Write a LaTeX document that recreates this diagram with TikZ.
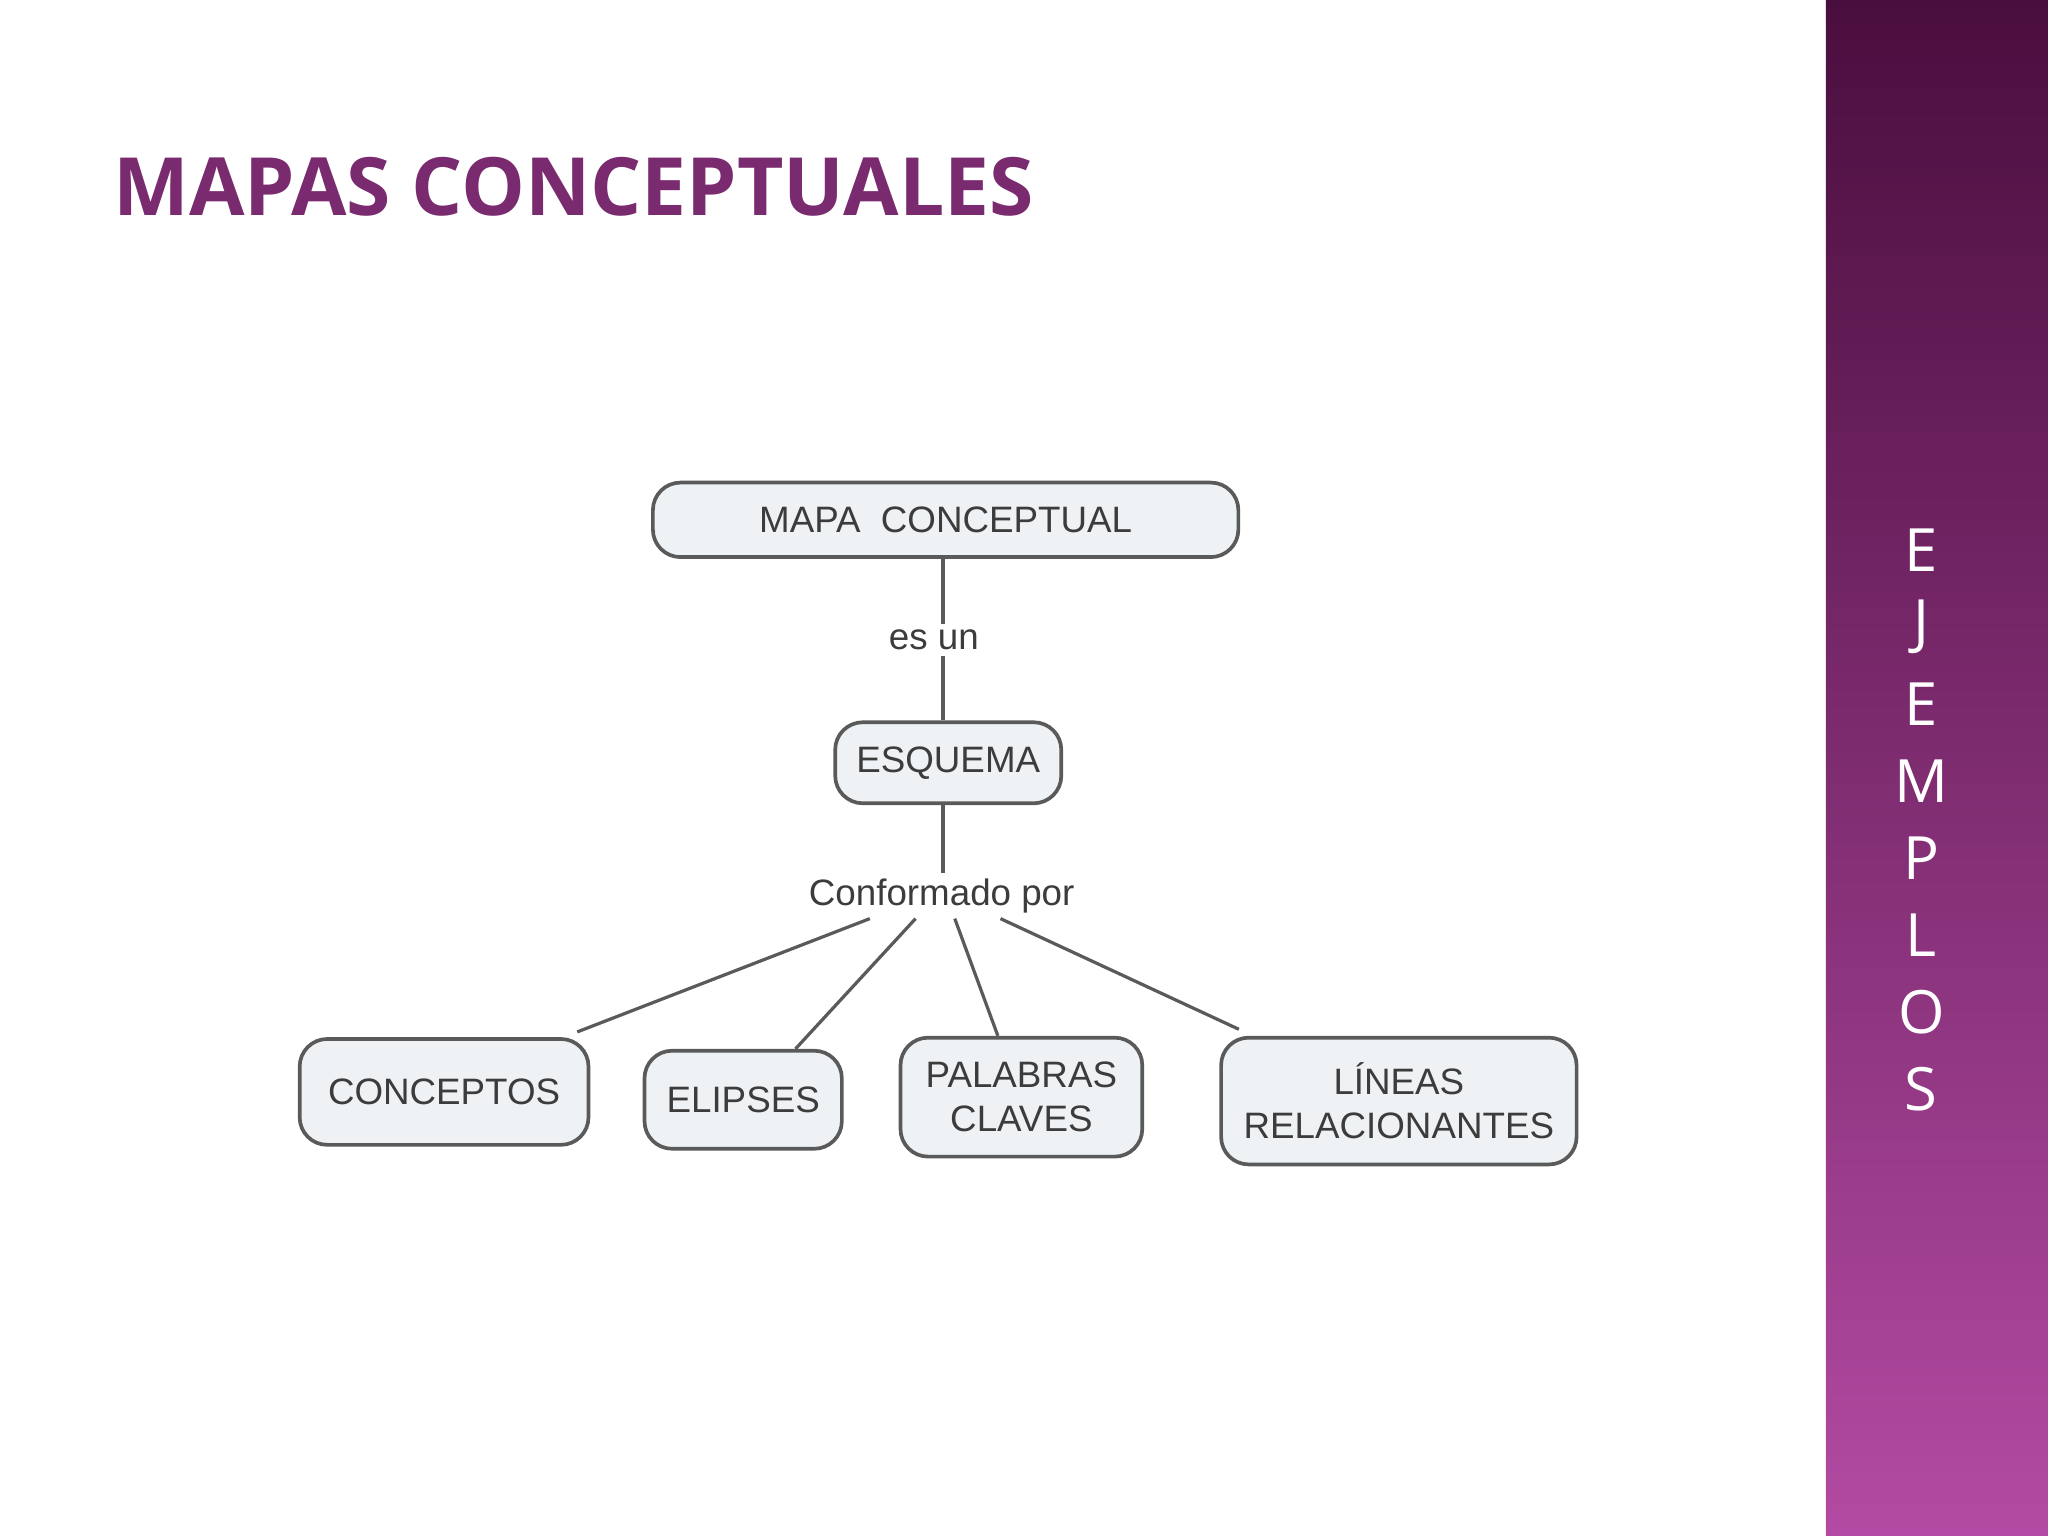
\documentclass[tikz,border=0pt]{standalone}
\usepackage{fontspec}
\setmainfont{Liberation Sans}
\newfontfamily\titlefont{Open Sans}
\usetikzlibrary{positioning}
\definecolor{titlepurple}{HTML}{7A2A6E}
\definecolor{boxfill}{HTML}{EEF2F4}
\definecolor{boxline}{HTML}{5A5A5A}
\definecolor{textgray}{HTML}{3C3C3C}
\definecolor{stripdark}{HTML}{4A0E3E}
\definecolor{striplight}{HTML}{B34AA3}
\tikzset{
  concept/.style={draw=boxline, fill=boxfill, rounded corners=6pt, line width=0.8pt,
    align=center, font=\fontsize{8}{9.5}\selectfont, text=textgray},
  linkword/.style={font=\fontsize{8}{9.5}\selectfont, text=textgray, fill=white, inner sep=1pt},
  link/.style={draw=boxline, line width=0.7pt}
}
\begin{document}
\begin{tikzpicture}[x=0.01cm, y=-0.01cm]
  % Frame and side strip
  \useasboundingbox (0,0) rectangle (1568,1176);
  \fill[white] (0,0) rectangle (1568,1176);
  \shade[top color=stripdark, bottom color=striplight] (1398,0) rectangle (1568,1176);

  % Title
  \node[anchor=base west, inner sep=0pt, font=\titlefont\bfseries\fontsize{17.5}{20}\selectfont, text=titlepurple]
    (title) at (86,165) {MAPAS CONCEPTUALES};

  % Side letters
  \foreach \ch [count=\i from 0] in {E,J,E,M,P,L,O,S}
    \node[font=\titlefont\fontsize{13}{15}\selectfont, text=white] (side\i) at (1471,{421+59*\i}) {\ch};

  % Concepts
  \node[concept, minimum width=4.48cm, minimum height=0.57cm] (mapa) at (724,398) {MAPA\ \ CONCEPTUAL};
  \node[linkword] (esun) at (715,490) {es un};
  \node[concept, minimum width=1.73cm, minimum height=0.62cm] (esquema) at (726,584) {ESQUEMA};
  \node[linkword] (conf) at (721,686) {Conformado por};
  \node[concept, minimum width=2.21cm, minimum height=0.81cm] (conceptos) at (340,836) {CONCEPTOS};
  \node[concept, minimum width=1.51cm, minimum height=0.75cm] (elipses) at (569,842) {ELIPSES};
  \node[concept, minimum width=1.85cm, minimum height=0.91cm] (palabras) at (782,840) {PALABRAS\\CLAVES};
  \node[concept, minimum width=2.72cm, minimum height=0.97cm] (lineas) at (1071,843) {LÍNEAS\\RELACIONANTES};

  % Links
  \draw[link] ([xshift=-0.02cm]mapa.south) -- ([xshift=-0.02cm]mapa.south |- esun.north);
  \draw[link] ([xshift=-0.02cm]mapa.south |- esun.south) -- ([xshift=-0.02cm]mapa.south |- esquema.north);
  \draw[link] ([xshift=-0.04cm]esquema.south) -- ([xshift=-0.04cm]esquema.south |- conf.north);
  \draw[link] ([xshift=-0.55cm]conf.south) -- ([xshift=-0.1cm, yshift=0.04cm]conceptos.north east);
  \draw[link] ([xshift=-0.2cm]conf.south) -- ([xshift=0.4cm]elipses.north);
  \draw[link] ([xshift=0.1cm]conf.south) -- ([xshift=-0.18cm]palabras.north);
  \draw[link] ([xshift=0.45cm]conf.south) -- ([xshift=0.15cm, yshift=0.05cm]lineas.north west);
\end{tikzpicture}
\end{document}
